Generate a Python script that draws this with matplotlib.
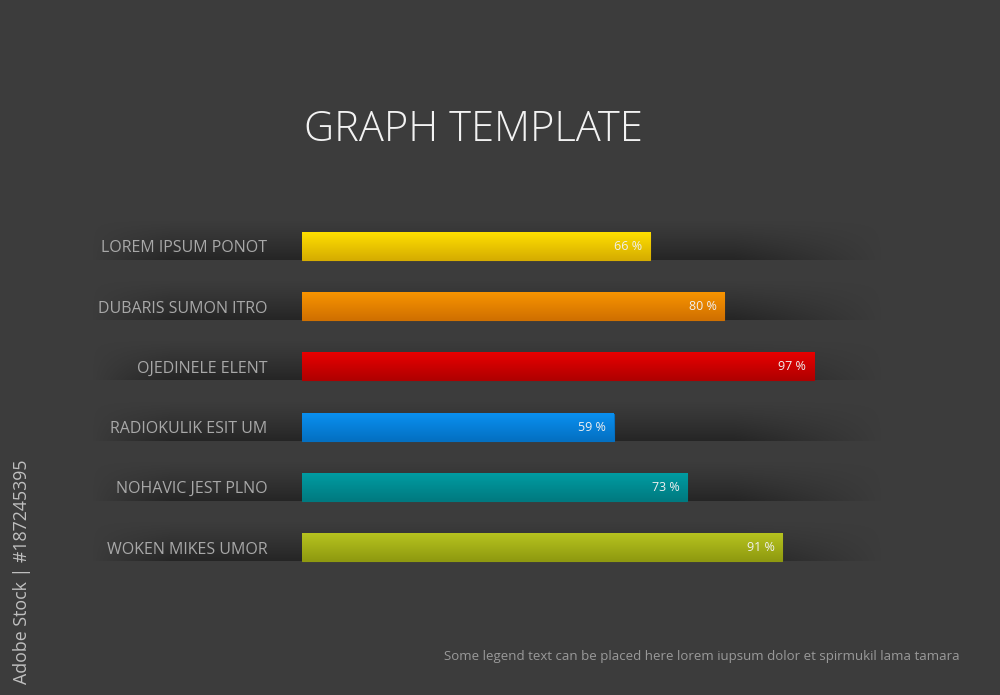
import numpy as np
import matplotlib
matplotlib.use('Agg')
import matplotlib.pyplot as plt
from matplotlib.colors import to_rgb

# データ
categories = ['LOREM IPSUM PONOT', 'DUBARIS SUMON ITRO', 'OJEDINELE ELENT',
              'RADIOKULIK ESIT UM', 'NOHAVIC JEST PLNO', 'WOKEN MIKES UMOR']
values = [66, 80, 97, 59, 73, 91]
top_colors = ['#ffdf00', '#f89400', '#e80000', '#0a90f0', '#009ca2', '#b6c31f']
bottom_colors = ['#d6ad00', '#d07000', '#b00000', '#0470c2', '#007a80', '#8f9a10']
title = 'GRAPH TEMPLATE'
footer = 'Some legend text can be placed here lorem iupsum dolor et spirmukil lama tamara'

BG = '#3c3c3c'
plt.rcParams['font.family'] = ['Open Sans', 'DejaVu Sans']

fig = plt.figure(figsize=(10, 6.95), dpi=100)
fig.patch.set_facecolor(BG)

# バー領域: 左端302px, 100% = 528px
ax = fig.add_axes([302 / 1000, (695 - 577.6) / 695, 528 / 1000, 361.2 / 695])
ax.set_facecolor('none')
bar_h = 0.45

for i, (v, c1, c2) in enumerate(zip(values, top_colors, bottom_colors)):
    # 影の帯
    ny, nx = 60, 400
    yy = np.linspace(0, 1, ny)[:, None]
    xx = np.linspace(-40, 110, nx)[None, :]
    alpha_v = 0.38 * yy ** 1.3
    alpha_h = np.clip((xx + 40) / 15, 0, 1) * np.clip((110 - xx) / 28, 0, 1)
    shade = np.zeros((ny, nx, 4))
    shade[..., 3] = alpha_v * alpha_h
    ax.imshow(shade, extent=(-40, 110, i + bar_h / 2, i - 0.45),
              aspect='auto', origin='upper', clip_on=False, zorder=1,
              interpolation='bilinear')

    # バー本体
    ax.barh(i, v, height=bar_h, color=c1, edgecolor=c2, linewidth=0.8, zorder=2)
    g = np.linspace(0, 1, 50)[:, None]
    grad = np.zeros((50, 2, 3))
    for k in range(3):
        grad[..., k] = to_rgb(c1)[k] * (1 - g) + to_rgb(c2)[k] * g
    ax.imshow(grad, extent=(0, v, i + bar_h / 2, i - bar_h / 2),
              aspect='auto', origin='upper', zorder=3, interpolation='bilinear',
              clip_on=False)

    # 値ラベル
    ax.annotate(f'{v} %', xy=(v, i), xytext=(-8, 0), textcoords='offset pixels',
                ha='right', va='center', fontsize=9, color='#f0f0f0', zorder=4)

ax.set_xlim(0, 100)
ax.set_ylim(len(values) - 0.5, -0.5)
ax.set_yticks(range(len(categories)))
ax.set_yticklabels(categories, fontsize=11.5, color='#a8a8a8')
ax.tick_params(axis='y', length=0, pad=25)
ax.set_xticks([])
for s in ax.spines.values():
    s.set_visible(False)

fig.text(304 / 1000, 1 - 141 / 695, title, fontsize=30, color='#f2f2f2',
         fontweight='light', ha='left', va='baseline')
fig.text(960 / 1000, 1 - 660 / 695, footer, fontsize=9.5, color='#9a9a9a',
         ha='right', va='baseline')
fig.text(22 / 1000, 1 - 572 / 695, 'Adobe Stock | #187245395', fontsize=12.8,
         color='#c0c0c0', rotation=90, ha='center', va='center')

fig.savefig('out.png', dpi=100, facecolor=BG)
